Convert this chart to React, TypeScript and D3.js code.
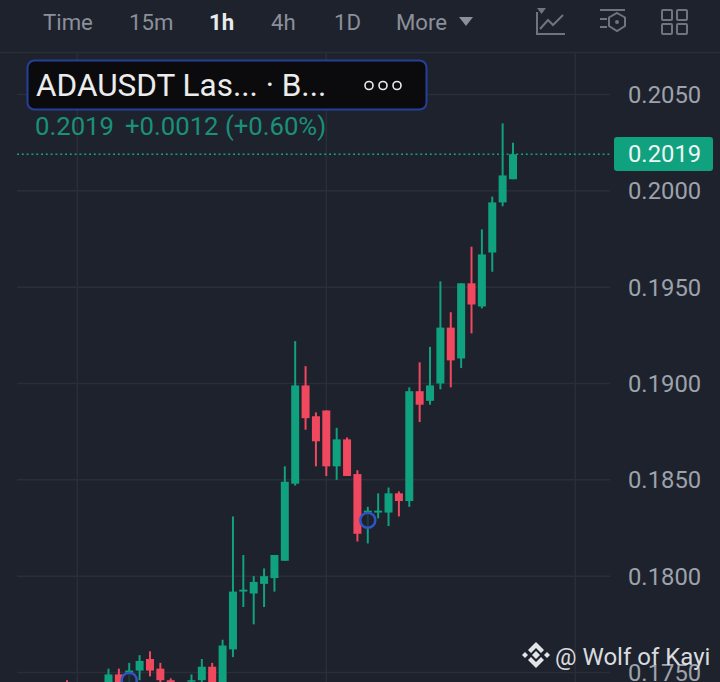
import * as d3 from 'd3';

// candle values, oldest first
const opens = [0.1743, 0.1743, 0.1736, 0.1736, 0.1738, 0.1749, 0.1750, 0.1751, 0.1757, 0.1752, 0.1746, 0.1736, 0.1746, 0.1746, 0.1753, 0.1738, 0.1762, 0.1792, 0.1791, 0.1796, 0.1799, 0.1808, 0.1848, 0.1899, 0.1883, 0.1886, 0.1857, 0.1871, 0.1853, 0.1833, 0.1833, 0.1833, 0.1843, 0.1839, 0.1896, 0.1891, 0.1900, 0.1929, 0.1913, 0.1952, 0.1940, 0.1968, 0.1994, 0.2006];
const closes = [0.1738, 0.1738, 0.1733, 0.1733, 0.1749, 0.1740, 0.1751, 0.1756, 0.1751, 0.1746, 0.1738, 0.1738, 0.1746, 0.1753, 0.1738, 0.1764, 0.1792, 0.1793, 0.1797, 0.1800, 0.1811, 0.1849, 0.1899, 0.1882, 0.1870, 0.1857, 0.1871, 0.1852, 0.1822, 0.1834, 0.1834, 0.1843, 0.1839, 0.1896, 0.1889, 0.1899, 0.1929, 0.1912, 0.1952, 0.1941, 0.1967, 0.1994, 0.2008, 0.2019];
const highs = [0.1746, 0.1745, 0.1738, 0.1738, 0.1752, 0.1752, 0.1755, 0.1759, 0.1761, 0.1755, 0.1747, 0.1739, 0.1749, 0.1757, 0.1755, 0.1767, 0.1831, 0.1811, 0.1800, 0.1804, 0.1811, 0.1857, 0.1922, 0.1909, 0.1885, 0.1886, 0.1877, 0.1872, 0.1855, 0.1836, 0.1843, 0.1846, 0.1844, 0.1898, 0.1911, 0.1919, 0.1953, 0.1937, 0.1952, 0.1971, 0.1980, 0.1997, 0.2035, 0.2025];
const lows = [0.1740, 0.1736, 0.1730, 0.1730, 0.1736, 0.1736, 0.1745, 0.1746, 0.1748, 0.1745, 0.1735, 0.1735, 0.1740, 0.1742, 0.1736, 0.1736, 0.1758, 0.1784, 0.1775, 0.1784, 0.1792, 0.1808, 0.1847, 0.1876, 0.1857, 0.1852, 0.1850, 0.1852, 0.1818, 0.1817, 0.1830, 0.1826, 0.1831, 0.1836, 0.1880, 0.1889, 0.1897, 0.1898, 0.1908, 0.1926, 0.1939, 0.1958, 0.1992, 0.2006];

const priceTicks = [0.205, 0.2, 0.195, 0.19, 0.185, 0.18, 0.175];
const verticalGrid = [1, 25, 49];
const markers = [
  { index: 6, price: 0.1746 },
  { index: 29, price: 0.1829 },
];
const tabs = ['Time', '15m', '1h', '4h', '1D', 'More'];
const tabX = [43, 129, 209, 271, 334, 396];
const lastPrice = 0.2019;

const GREEN = '#10a17f';
const RED = '#f0485f';
const FONT = 'Roboto, sans-serif';

export default function App() {
  const x = d3.scaleLinear().domain([0, opens.length - 1]).range([67, 513]);
  const y = d3.scaleLinear().domain([0.175, 0.205]).range([672.5, 94.5]);

  return (
    <svg width={720} height={682} style={{ position: 'absolute', left: 0, top: 0 }} fontFamily={FONT}>
      <rect width={720} height={682} fill="#1e222d" />

      {/* grid */}
      <line x1={0} x2={720} y1={52.5} y2={52.5} stroke="#2a2e39" strokeWidth={1.5} />
      {priceTicks.map(t => (
        <line key={t} x1={17} x2={610} y1={y(t)} y2={y(t)} stroke="#2a2e39" strokeWidth={1.5} />
      ))}
      {verticalGrid.map(i => (
        <line key={i} x1={x(i)} x2={x(i)} y1={52} y2={682} stroke="#2a2e39" strokeWidth={1.5} />
      ))}

      {/* candles */}
      {opens.map((o, i) => {
        const c = closes[i];
        const color = c >= o ? GREEN : RED;
        const top = y(Math.max(o, c));
        const bottom = y(Math.min(o, c));
        return (
          <g key={i}>
            <line x1={x(i)} x2={x(i)} y1={y(highs[i])} y2={y(lows[i])} stroke={color} strokeWidth={2} />
            <rect x={x(i) - 4} y={top} width={8} height={Math.max(bottom - top, 1.5)} fill={color} />
          </g>
        );
      })}

      {markers.map(m => (
        <circle key={m.index} cx={x(m.index)} cy={y(m.price)} r={7.5} fill="#1e222d" fillOpacity={0.8} stroke="#2f55c0" strokeWidth={2.5} />
      ))}

      {/* last price */}
      <line x1={17} x2={612} y1={y(lastPrice)} y2={y(lastPrice)} stroke={GREEN} strokeWidth={1.6} strokeDasharray="2 2.8" />
      <rect x={614} y={137} width={99} height={34} rx={3} fill={GREEN} />
      <text x={628} y={162} fontSize={23.8} fill="#eef5f3">0.2019</text>

      {/* price labels */}
      {priceTicks.map(t => (
        <text key={t} x={628} y={y(t) + 8.5} fontSize={23.8} fill="#9da2ac">{d3.format('.4f')(t)}</text>
      ))}

      {/* top bar */}
      {tabs.map((t, i) => (
        <text key={t} x={tabX[i]} y={30} fontSize={22.2} fontWeight={t === '1h' ? 700 : 400} fill={t === '1h' ? '#e8eaed' : '#8b909a'}>{t}</text>
      ))}
      <path d="M459 17H473L466 26Z" fill="#8b909a" />

      <g fill="none" stroke="#6f747e" strokeWidth={2}>
        <path d="M537 12V34H565" />
        <path d="M540 29L548 20L553 25L563 15" />
        <path d="M600 10H625M600 19H607M600 27H607" />
        <path d="M617 13L625 17.5V26L617 31L609 26V17.5Z" />
        <rect x={662} y={10} width={10} height={10} rx={1} />
        <rect x={677} y={10} width={10} height={10} rx={1} />
        <rect x={662} y={24} width={10} height={10} rx={1} />
        <rect x={677} y={24} width={10} height={10} rx={1} />
      </g>
      <path d="M537 8L546 8L541.5 14Z" fill="#6f747e" />
      <circle cx={617} cy={22} r={2} fill="#6f747e" />

      {/* legend */}
      <rect x={27.5} y={60.5} width={399} height={49} rx={7} fill="#0b0b0d" stroke="#25409a" strokeWidth={2} />
      <text x={36} y={96} fontSize={31.5} fill="#ececec">ADAUSDT Las... · B...</text>
      {[369, 383, 397].map(cx => (
        <circle key={cx} cx={cx} cy={85.5} r={4} fill="none" stroke="#ececec" strokeWidth={1.6} />
      ))}
      <text x={35} y={135} fontSize={25.7} fill="#1b9079">0.2019</text>
      <text x={125} y={135} fontSize={25.7} fill="#1b9079">+0.0012 (+0.60%)</text>

      {/* watermark */}
      <g fill="#e3e5e8">
        <path d="M536 642L544 650L541 653L536 648L531 653L528 650Z" />
        <path d="M536 668L544 660L541 657L536 662L531 657L528 660Z" />
        <path d="M536 651L540 655L536 659L532 655Z" />
        <path d="M525 652L528 655L525 658L522 655Z" />
        <path d="M547 652L550 655L547 658L544 655Z" />
      </g>
      <text x={555} y={665} fontSize={24} fill="#d9dbdf">@ Wolf of Kayi</text>
    </svg>
  );
}
